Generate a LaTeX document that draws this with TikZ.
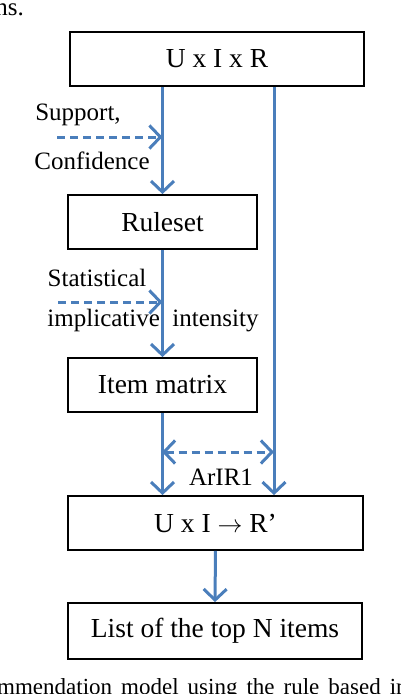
\documentclass[tikz,border=0pt]{standalone}
\usepackage{fontspec}
\setmainfont{Liberation Serif}
\usetikzlibrary{arrows.meta}
\definecolor{lineblue}{HTML}{4A7EBB}
\tikzset{
  box/.style={draw=black, line width=1.8pt, minimum height=54pt, inner sep=0pt, font=\fontsize{27.5}{33}\selectfont},
  lbl/.style={inner sep=0pt, font=\fontsize{25}{30}\selectfont},
  barb/.tip={Straight Barb[length=11pt,width=23pt,line width=3pt]},
  flow/.style={draw=lineblue, line width=3pt, -barb},
  dflow/.style={flow, dash pattern=on 8pt off 5pt},
  ddflow/.style={dflow, barb-barb}
}
\begin{document}
\begin{tikzpicture}[x=1pt,y=-1pt]
\useasboundingbox (0,0) rectangle (400,694);
\clip (0,0) rectangle (400,694);
\fill[white] (0,0) rectangle (400,694);
% boxes
\node[box, minimum width=294pt] (top) at (217,59) {U x I x R};
\node[box, minimum width=189pt] (rules) at (162.5,222) {Ruleset};
\node[box, minimum width=189pt] (item) at (162.5,385) {Item matrix};
\node[box, minimum width=295pt] (uir) at (215.5,523) {U x I $\rightarrow$ R’};
\node[box, minimum width=294pt, minimum height=56pt] (list) at (215,631) {List of the top N items};
% coordinates
\coordinate (r) at (274,0);
\coordinate (s1) at (57,137);
\coordinate (s2) at (58,302);
\coordinate (d) at (162,452);
% connectors
\draw[flow] (top.south -| rules.north) -- (rules.north);
\draw[flow] (rules.south) -- (item.north);
\draw[flow] (item.south) -- (item.south |- uir.north);
\draw[flow] (top.south -| r) -- (uir.north -| r);
\draw[flow] (uir.south) -- (list.north);
\draw[dflow] (s1) -- (s1 -| rules.north);
\draw[dflow] (s2) -- (s2 -| item.north);
\draw[ddflow] (d) -- (d -| r);
% labels
\node[lbl] (l1) at (78,115) {Support,};
\node[lbl] (l2) at (92,161) {Confidence};
\node[lbl] (l3) at (97,278) {Statistical};
\node[lbl] (l4) at (153,321) {implicative\ \ intensity};
\node[lbl] (l5) at (221,477) {ArIR1};
% cropped surrounding text
\node[lbl, anchor=base east] (t0) at (24,15) {ns.};
\node[lbl, anchor=base west, font=\fontsize{23}{28}\selectfont] (cap) at (-3,694) {mmendation\hspace{9pt}model\hspace{9pt}using\hspace{9pt}the\hspace{9pt}rule\hspace{9pt}based\hspace{9pt}im};
\end{tikzpicture}
\end{document}
